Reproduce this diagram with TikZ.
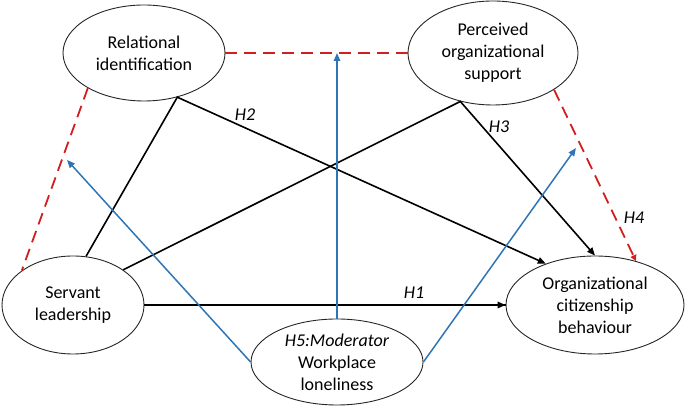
\documentclass[tikz,border=0pt]{standalone}
\usepackage{fontspec}
\setmainfont{Carlito}
\usetikzlibrary{shapes.geometric,arrows.meta}
\definecolor{myblue}{RGB}{46,117,182}
\definecolor{myred}{RGB}{210,30,30}
\begin{document}
\begin{tikzpicture}[x=1pt,y=1pt,
  ell/.style={ellipse,draw=black!85,line width=0.9pt,inner sep=0pt,align=center,
    font=\fontsize{18}{22}\selectfont},
  blk/.style={draw=black,line width=1.6pt},
  blu/.style={draw=myblue,line width=1.5pt},
  reddash/.style={draw=myred,line width=1.8pt,dash pattern=on 12pt off 7pt},
  tip/.style={-{Triangle[length=8pt,width=6.5pt]}},
  hlab/.style={font=\fontsize{18}{22}\selectfont\itshape}]
\useasboundingbox (0,0) rectangle (685,406);
\node[ell,minimum width=162pt,minimum height=96pt] (ri) at (144,353) {Relational\\identification};
\node[ell,minimum width=170pt,minimum height=104pt] (pos) at (493,353) {Perceived\\organizational\\support};
\node[ell,minimum width=142pt,minimum height=98pt] (sl) at (73,101) {Servant\\leadership};
\node[ell,minimum width=178pt,minimum height=98pt] (ocb) at (595,101) {Organizational\\citizenship\\behaviour};
\node[ell,minimum width=172pt,minimum height=86pt] (wl) at (337,44) {\textit{H5:Moderator}\\Workplace\\loneliness};
\coordinate (b1) at (67,246);
\coordinate (b2) at (576,258);
% red dashed
\draw[reddash] (ri.east) -- (pos.west);
\draw[reddash] (ri.-148) -- (sl.146);
\draw[reddash,-{Triangle[length=6pt,width=6pt]}] (pos.-31) -- (ocb.47);
% black
\draw[blk] (sl.east) -- (ocb.west);
\draw[blk,tip] (sl.east) -- (ocb.west);
\draw[blk,tip] (sl.75) -- (ri.-53) -- (ocb.140);
\draw[blk,tip] (sl.35) -- (pos.-124) -- (ocb.north);
% blue
\draw[blu,tip] (wl.north) -- (wl.north |- ri.east);
\draw[blu,tip] (wl.west) -- (b1);
\draw[blu,tip] (wl.east) -- (b2);
% labels
\node[hlab] (h1) at (414,113) {H1};
\node[hlab] (h2) at (245,291) {H2};
\node[hlab] (h3) at (499,279) {H3};
\node[hlab] (h4) at (634,188) {H4};
\end{tikzpicture}
\end{document}
